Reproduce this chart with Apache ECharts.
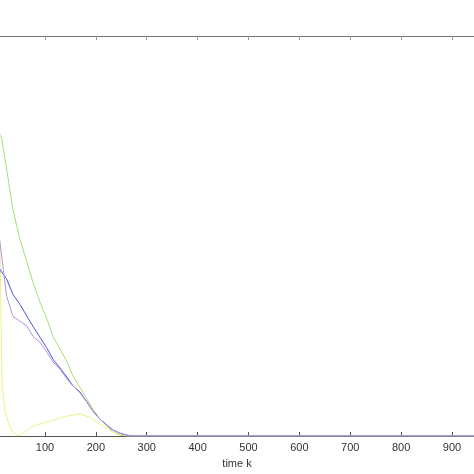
<!DOCTYPE html>
<html><head><meta charset="utf-8">
<script src="https://cdn.jsdelivr.net/npm/echarts@6/dist/echarts.min.js"></script>
<style>html,body{margin:0;padding:0;background:#fff}#c{width:474px;height:474px}</style>
</head><body><div id="c"></div>
<script>
var xTicks = [100,200,300,400,500,600,700,800,900];
var greenT = [0,11.6,14.9,24.8,37.1,50.9,64.7,76.5,90.2,104,115.8,129.5,143.3,155.1,168.8,182.6,194.4,208.1,221.9,233.7,247.4,261.2,1000];
var greenV = [0.82,0.752,0.745,0.666,0.566,0.491,0.434,0.384,0.334,0.292,0.249,0.217,0.185,0.150,0.122,0.092,0.067,0.042,0.025,0.010,0.002,0,0];
var blueT = [0,11.6,14.9,24.8,37.1,50.9,64.7,76.5,90.2,104,115.8,129.5,143.3,155.1,168.8,182.6,194.4,208.1,221.9,233.7,247.4,261.2,273,1000];
var blueV = [0.446,0.416,0.411,0.392,0.354,0.329,0.299,0.274,0.247,0.219,0.192,0.170,0.147,0.125,0.110,0.085,0.062,0.042,0.027,0.015,0.007,0.002,0,0];
var purpleT = [0,11.6,18.1,24.8,37.1,50.9,64.7,76.5,90.2,104,115.8,129.5,143.3,155.1,168.8,182.6,194.4,208.1,221.9,233.7,247.4,261.2,273,1000];
var purpleV = [0.554,0.484,0.416,0.349,0.299,0.287,0.274,0.249,0.234,0.209,0.185,0.167,0.142,0.125,0.108,0.084,0.062,0.042,0.027,0.015,0.007,0.002,0,0];
var yellowT = [0,5.7,11.6,15.5,21.4,31.3,37.1,47,60.7,76.5,109.9,129.5,143.3,168.8,188.5,208.1,233.7,261.2,1000];
var yellowV = [0.89,0.716,0.466,0.142,0.060,0.022,0.010,0,0.010,0.025,0.037,0.045,0.050,0.055,0.047,0.030,0.010,0,0];
// visible window of the time axis (the figure is cropped on both sides)
var xMin = 11.6, xMax = 943.2;

function pairs(t,v){return t.map(function(x,i){return [x,v[i]];});}
var chart = echarts.init(document.getElementById('c'));
function ser(name,t,v,color){
  return {name:name,type:'line',data:pairs(t,v),showSymbol:false,symbol:'none',smooth:false,
    lineStyle:{color:color,width:1},animation:false,clip:true};
}
chart.setOption({
  animation:false,
  grid:{left:0,right:0,top:36,bottom:37,containLabel:false},
  xAxis:[{type:'value',min:xMin,max:xMax,position:'bottom',
    name:'time k',nameLocation:'middle',nameGap:22,
    nameTextStyle:{color:'#333',fontSize:11,fontFamily:'Liberation Sans'},
    axisLine:{lineStyle:{color:'#555',width:1}},
    axisTick:{inside:true,length:4,customValues:xTicks,lineStyle:{color:'#555'}},
    axisLabel:{color:'#333',fontSize:11,fontFamily:'Liberation Sans',margin:6,customValues:xTicks},
    splitLine:{show:false}},
   {type:'value',min:xMin,max:xMax,position:'top',
    axisLine:{lineStyle:{color:'#777',width:1}},
    axisTick:{inside:true,length:4,customValues:xTicks,lineStyle:{color:'#999'}},
    axisLabel:{show:false},splitLine:{show:false}}],
  yAxis:{type:'value',min:0,max:1,show:false,splitLine:{show:false}},
  series:[
    ser('green',greenT,greenV,'#a6e070'),
    ser('yellow',yellowT,yellowV,'#eef08c'),
    ser('blue',blueT,blueV,'#4657d4'),
    ser('purple',purpleT,purpleV,'#b890e0')
  ]
});
</script></body></html>
